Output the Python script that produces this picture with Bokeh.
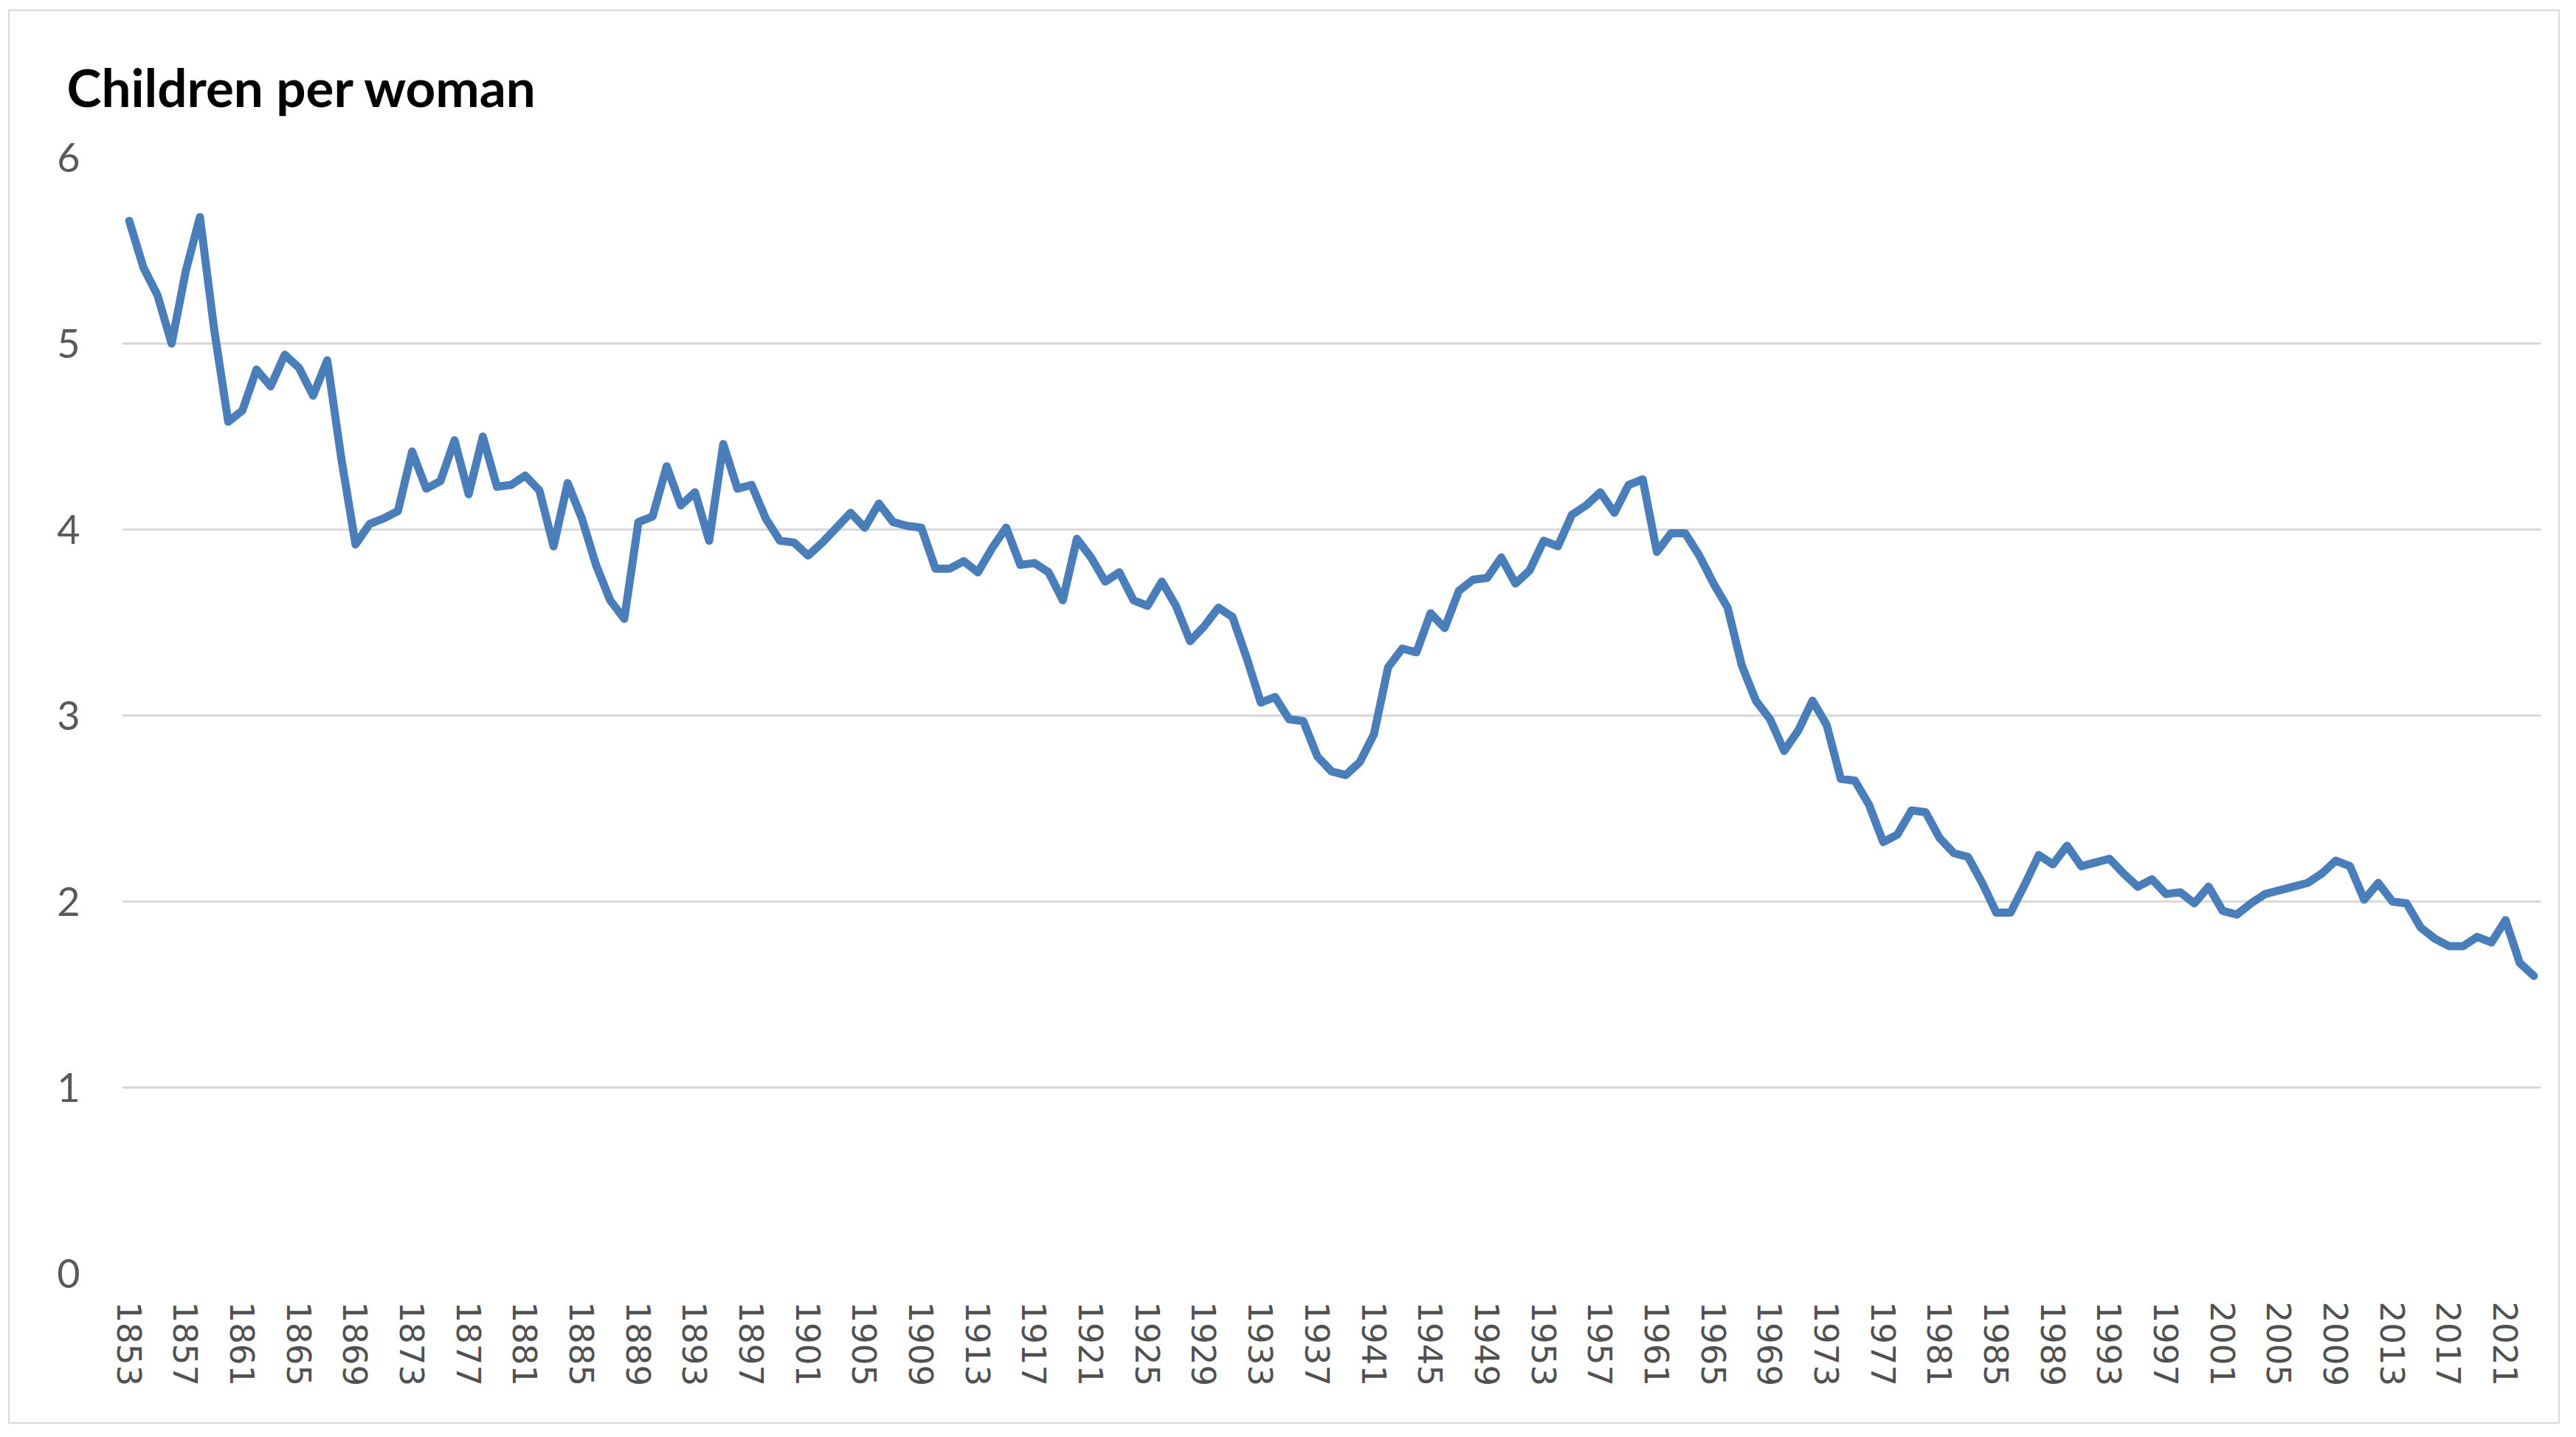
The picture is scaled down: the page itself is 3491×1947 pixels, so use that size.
from bokeh.plotting import figure
from bokeh.models import Range1d, FixedTicker, ColumnDataSource
from bokeh.embed import file_html
from bokeh.resources import INLINE

years = list(range(1853, 2024))
children_per_woman = [
    5.66, 5.41, 5.26, 5.00, 5.39, 5.68, 5.08, 4.58, 4.64, 4.86,   # 1853-1862
    4.77, 4.94, 4.87, 4.72, 4.91, 4.38, 3.92, 4.03, 4.06, 4.10,   # 1863-1872
    4.42, 4.22, 4.26, 4.48, 4.19, 4.50, 4.23, 4.24, 4.29, 4.21,   # 1873-1882
    3.91, 4.25, 4.06, 3.81, 3.62, 3.52, 4.04, 4.07, 4.34, 4.13,   # 1883-1892
    4.20, 3.94, 4.46, 4.22, 4.24, 4.06, 3.94, 3.93, 3.86, 3.93,   # 1893-1902
    4.01, 4.09, 4.01, 4.14, 4.04, 4.02, 4.01, 3.79, 3.79, 3.83,   # 1903-1912
    3.77, 3.90, 4.01, 3.81, 3.82, 3.77, 3.62, 3.95, 3.85, 3.72,   # 1913-1922
    3.77, 3.62, 3.59, 3.72, 3.59, 3.40, 3.48, 3.58, 3.53, 3.31,   # 1923-1932
    3.07, 3.10, 2.98, 2.97, 2.78, 2.70, 2.68, 2.75, 2.90, 3.26,   # 1933-1942
    3.36, 3.34, 3.55, 3.47, 3.67, 3.73, 3.74, 3.85, 3.71, 3.78,   # 1943-1952
    3.94, 3.91, 4.08, 4.13, 4.20, 4.09, 4.24, 4.27, 3.88, 3.98,   # 1953-1962
    3.98, 3.86, 3.71, 3.58, 3.27, 3.08, 2.98, 2.81, 2.92, 3.08,   # 1963-1972
    2.95, 2.66, 2.65, 2.52, 2.32, 2.36, 2.49, 2.48, 2.34, 2.26,   # 1973-1982
    2.24, 2.10, 1.94, 1.94, 2.09, 2.25, 2.20, 2.30, 2.19, 2.21,   # 1983-1992
    2.23, 2.15, 2.08, 2.12, 2.04, 2.05, 1.99, 2.08, 1.95, 1.93,   # 1993-2002
    1.99, 2.04, 2.06, 2.08, 2.10, 2.15, 2.22, 2.19, 2.01, 2.10,   # 2003-2012
    2.00, 1.99, 1.86, 1.80, 1.76, 1.76, 1.81, 1.78, 1.90, 1.67,   # 2013-2022
    1.60,                                                         # 2023
]
x_tick_years = list(range(1853, 2024, 4))
y_ticks = [0, 1, 2, 3, 4, 5, 6]
title_text = "Children per woman"

source = ColumnDataSource(dict(year=years, value=children_per_woman))

p = figure(
    width=3458, height=1916,
    x_range=Range1d(1852.5, 2023.5), y_range=Range1d(0, 6),
    output_backend="svg", toolbar_location=None,
    min_border_left=152, min_border_right=28,
    min_border_top=198, min_border_bottom=206,
    background_fill_color="white", border_fill_color="white",
)
p.margin = (13, 0, 0, 11)
p.styles = {"border": "2px solid #d9d9d9"}
p.outline_line_color = None

p.line("year", "value", source=source, line_color="#4a7ebb", line_width=11,
       line_join="round", line_cap="round")

# title
p.title.text = title_text
p.title.text_font = "Lato"
p.title.text_font_style = "bold"
p.title.text_font_size = "71px"
p.title.text_color = "black"
p.title.align = "left"
p.title.offset = -75
p.title.standoff = 107

# y axis
p.yaxis.ticker = FixedTicker(ticks=y_ticks)
p.yaxis.axis_line_color = None
p.yaxis.major_tick_line_color = None
p.yaxis.minor_tick_line_color = None
p.yaxis.major_tick_out = 0
p.yaxis.major_label_standoff = 57
p.yaxis.major_label_text_font = "Lato"
p.yaxis.major_label_text_font_size = "54px"
p.yaxis.major_label_text_color = "#595959"

# x axis
p.xaxis.ticker = FixedTicker(ticks=x_tick_years)
p.xaxis.axis_line_color = None
p.xaxis.major_tick_line_color = None
p.xaxis.minor_tick_line_color = None
p.xaxis.major_tick_out = 0
p.xaxis.major_label_standoff = 38
p.xaxis.major_label_orientation = "vertical"
p.xaxis.major_label_text_font = "DejaVu Sans"
p.xaxis.major_label_text_font_size = "45px"
p.xaxis.major_label_text_color = "#505050"

p.xgrid.grid_line_color = None
p.ygrid.ticker = FixedTicker(ticks=y_ticks)
p.ygrid.grid_line_color = "#d9d9d9"
p.ygrid.grid_line_width = 3

open("out.html", "w").write(file_html(p, INLINE))
